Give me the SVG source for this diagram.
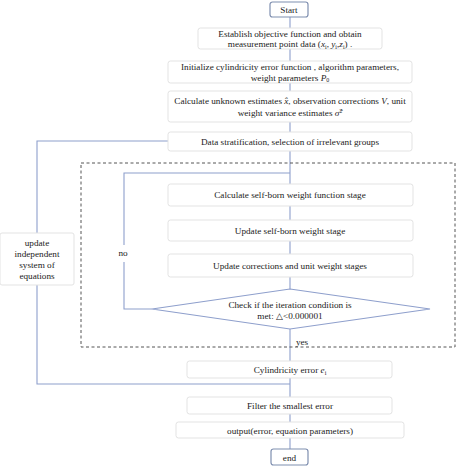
<svg xmlns="http://www.w3.org/2000/svg" width="474" height="467" viewBox="0 0 474 467">
<defs>
<style>
text{font-family:'Liberation Serif','Times New Roman',serif;font-size:9.2px;fill:#222;text-anchor:middle}
.box{fill:#fff;stroke:#e3e3e3;stroke-width:1}
.term{fill:#fff;stroke:#7f8fb0;stroke-width:1.2}
.ln{fill:none;stroke:#8e9fcc;stroke-width:1.1}
.dash{fill:none;stroke:#555;stroke-width:1;stroke-dasharray:3,2.5}
</style>
</defs>
<rect width="474" height="467" fill="#fff"/>
<g id="connectors">
<path class="ln" d="M290 17V28M290 49V61M290 83V91M290 122V132M290 151V184M290 206V220M290 241V254M290 277V289M290 329V361M290 378V397M290 414V422M290 438V449"/>
<path class="ln" d="M290 173H124V245M124 262V309H152"/>
<path class="ln" d="M168 141H37V233M37 285V384H290"/>
</g>
<g id="group-dashed"><rect class="dash" x="81" y="163" width="374" height="184"/></g>
<g id="start"><rect class="term" x="270" y="2" width="38" height="15" rx="2.5"/><text x="289" y="13">Start</text></g>
<g id="n1"><rect class="box" x="198" y="28" width="184" height="21" rx="2.5"/><text x="290" y="37">Establish objective function and obtain</text><text x="290" y="47">measurement point data (<tspan font-style="italic">x</tspan><tspan font-size="6" dy="1.5">i</tspan><tspan dy="-1.5">, </tspan><tspan font-style="italic">y</tspan><tspan font-size="6" dy="1.5">i</tspan><tspan dy="-1.5">,</tspan><tspan font-style="italic">z</tspan><tspan font-size="6" dy="1.5">i</tspan><tspan dy="-1.5">) .</tspan></text></g>
<g id="n2"><rect class="box" x="168" y="61" width="244" height="22" rx="2.5"/><text x="290" y="70">Initialize cylindricity error function , algorithm parameters,</text><text x="290" y="80.5">weight parameters <tspan font-style="italic">P</tspan><tspan font-size="6" dy="1.5">0</tspan></text></g>
<g id="n3"><rect class="box" x="168" y="91" width="244" height="31" rx="2.5"/><text x="290" y="104">Calculate unknown estimates <tspan font-style="italic">x̂</tspan>, observation corrections <tspan font-style="italic">V</tspan>, unit</text><text x="290" y="115.5">weight variance estimates <tspan font-style="italic">σ̂</tspan><tspan font-size="6" dy="-3">2</tspan></text></g>
<g id="n4"><rect class="box" x="168" y="132" width="244" height="19" rx="2.5"/><text x="290" y="144.5">Data stratification, selection of irrelevant groups</text></g>
<g id="n5"><rect class="box" x="168" y="184" width="245" height="22" rx="2.5"/><text x="290" y="198">Calculate self-born weight function stage</text></g>
<g id="n6"><rect class="box" x="168" y="220" width="245" height="21" rx="2.5"/><text x="290" y="233.5">Update self-born weight stage</text></g>
<g id="n7"><rect class="box" x="168" y="254" width="245" height="23" rx="2.5"/><text x="290" y="268.5">Update corrections and unit weight stages</text></g>
<g id="decision"><polygon points="290,289 430,309 290,329 152,309" fill="#fff" stroke="#8e9fcc" stroke-width="1.1"/><text x="290" y="308">Check if the iteration condition is</text><text x="290" y="318.5">met: △&lt;0.000001</text></g>
<g id="update"><rect class="box" x="0" y="233" width="74" height="52" rx="2"/><text x="37" y="246">update</text><text x="37" y="257">independent</text><text x="37" y="268">system of</text><text x="37" y="279">equations</text></g>
<g id="no-label"><text x="123" y="256">no</text></g>
<g id="yes-label"><text x="302" y="345">yes</text></g>
<g id="n8"><rect class="box" x="187" y="361" width="205" height="17" rx="2.5"/><text x="290" y="373">Cylindricity error <tspan font-style="italic">e</tspan><tspan font-size="6" dy="1.5">i</tspan></text></g>
<g id="n9"><rect class="box" x="187" y="397" width="205" height="17" rx="2.5"/><text x="290" y="409">Filter the smallest error</text></g>
<g id="n10"><rect class="box" x="176" y="422" width="228" height="16" rx="2.5"/><text x="290" y="433.5">output(error, equation parameters)</text></g>
<g id="end"><rect class="term" x="271" y="449" width="37" height="16" rx="2.5"/><text x="289.5" y="460.5">end</text></g>
</svg>
